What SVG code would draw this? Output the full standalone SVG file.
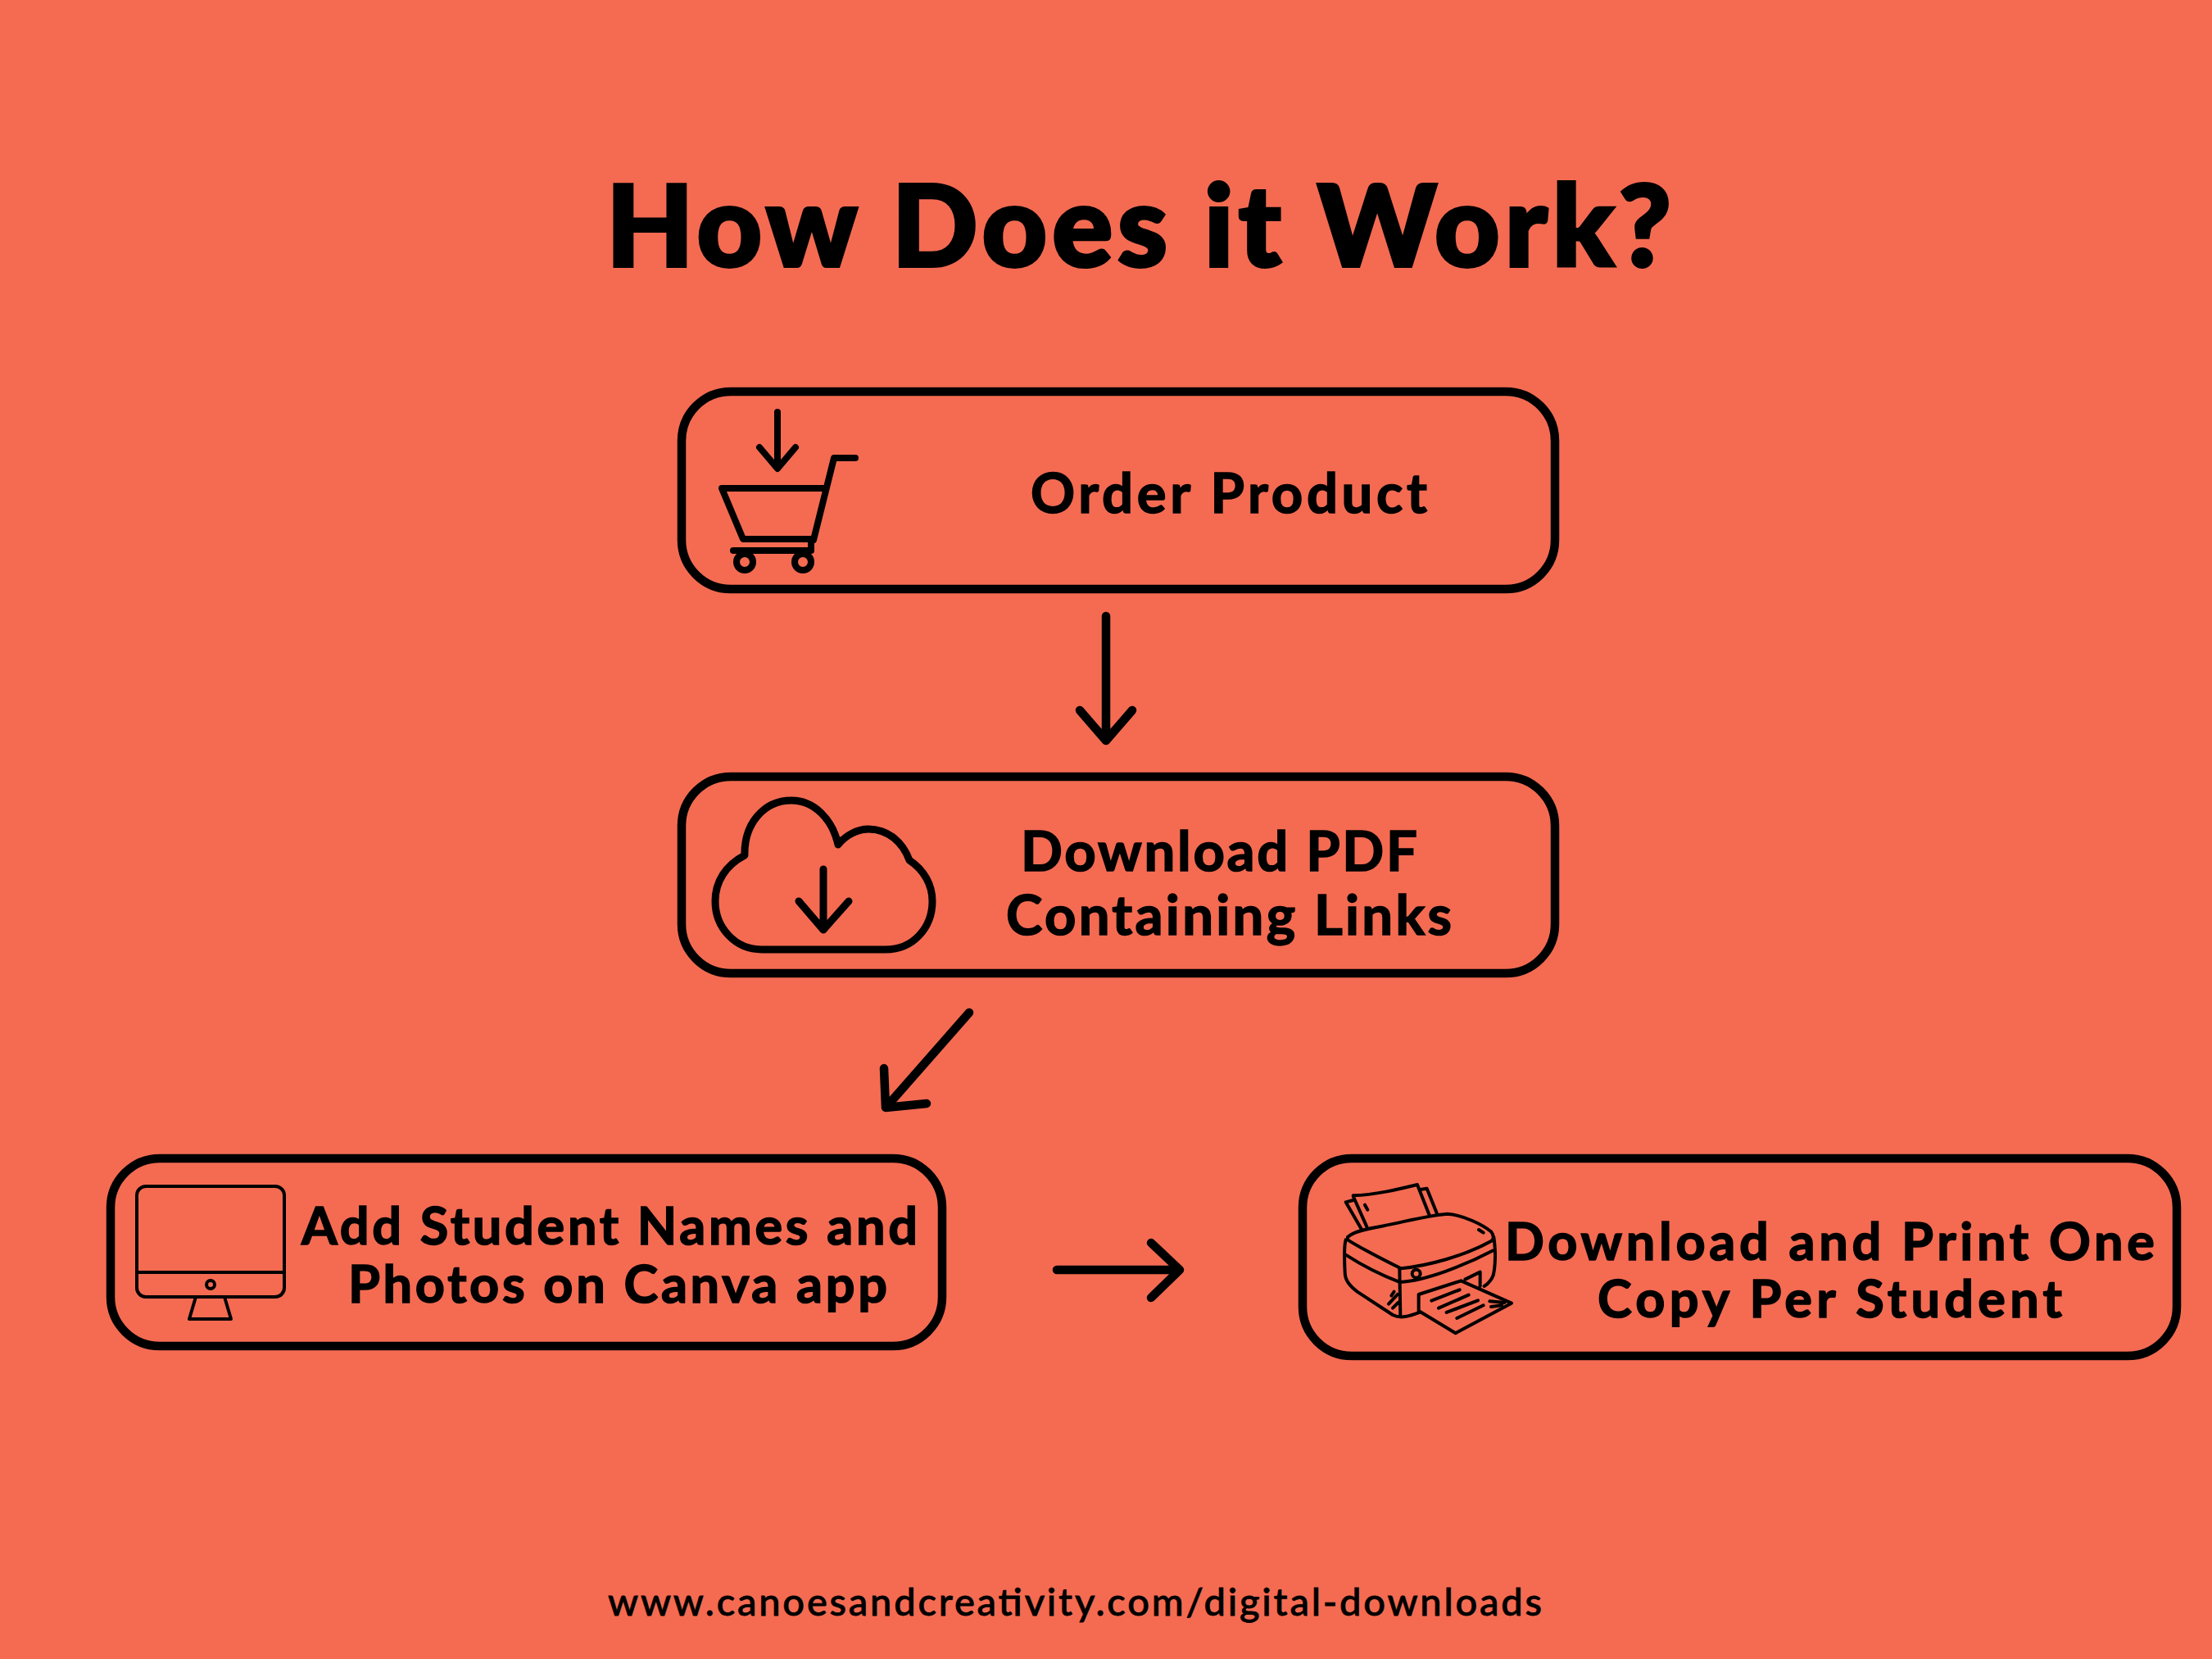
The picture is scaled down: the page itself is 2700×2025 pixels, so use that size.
<svg xmlns="http://www.w3.org/2000/svg" width="2700" height="2025" viewBox="0 0 2700 2025">
<style>
.box{fill:none;stroke:#000;stroke-width:10.5}
.ln{fill:none;stroke:#000;stroke-linecap:round;stroke-linejoin:round}
.conn{stroke-width:10.5}
text{font-family:"Lato","Liberation Sans",sans-serif;font-weight:700;fill:#000;stroke:#000;stroke-width:1.6}
.lbl{font-size:67px}
.lbl2{font-size:63px}
</style>
<rect width="2700" height="2025" fill="#F46B52"/>
<text id="title" x="740" y="325" font-size="138" style="font-weight:900;stroke-width:4" textLength="1300" lengthAdjust="spacing">How Does it Work?</text>
<g id="connectors">
<path class="ln conn" d="M1350 752V902M1318 867L1350 904L1382 867"/>
<path class="ln conn" d="M1183 1236L1082 1351M1079 1304L1081 1352L1131 1347"/>
<path class="ln conn" d="M1290 1550H1438M1405 1517L1440 1550L1405 1584"/>
</g>
<g id="node-order">
<rect class="box" x="832" y="478" width="1066" height="241" rx="60"/>
<g class="ln" stroke-width="8">
<path d="M949 503V570M927 546L949 572L971 546"/>
<path d="M1044 559H1018L993 659"/>
<path d="M1007 596H881L907 658H993"/>
<path d="M990 660V672H895"/>
<circle cx="909" cy="686" r="10"/><circle cx="980" cy="686" r="10"/>
</g>
<text class="lbl" x="1258" y="626" textLength="484" lengthAdjust="spacing">Order Product</text>
</g>
<g id="node-download">
<rect class="box" x="832" y="948" width="1066" height="240" rx="60"/>
<g class="ln" stroke-width="9">
<path d="M930 1159H1081C1115 1159 1138 1132 1138 1100C1138 1080 1128 1062 1110 1050C1102 1028 1084 1012 1060 1012C1046 1012 1032 1020 1023 1031C1016 1000 994 977 966 977C932 977 908 1006 909 1044C886 1056 873 1076 873 1100C873 1132 897 1159 930 1159Z"/>
<path d="M1005 1061V1133M975 1100L1005 1135L1036 1100"/>
</g>
<text class="lbl" x="1246" y="1063" textLength="484" lengthAdjust="spacing">Download PDF</text>
<text class="lbl" x="1228" y="1141" textLength="544" lengthAdjust="spacing">Containing Links</text>
</g>
<g id="node-canva">
<rect class="box" x="135" y="1414" width="1015" height="229" rx="60"/>
<g class="ln" stroke-width="4">
<rect x="167" y="1448" width="180" height="135" rx="11"/>
<path d="M167 1553H347"/>
<circle cx="257" cy="1568" r="5"/>
<path d="M239 1583L231 1610H282L274 1583"/>
</g>
<text class="lbl2" x="368" y="1519" textLength="752" lengthAdjust="spacing">Add Student Names and</text>
<text class="lbl2" x="425" y="1590" textLength="658" lengthAdjust="spacing">Photos on Canva app</text>
</g>
<g id="node-print">
<rect class="box" x="1590" y="1414" width="1067" height="241" rx="60"/>
<g class="ln" stroke-width="12" transform="translate(1600 1420) scale(.3333)">
<path d="M185 240L128 142L155 135M155 118C240 115 320 95 390 78L435 192M205 232L155 120M405 95L425 92L462 184"/>
<path d="M198 152L208 170M615 243L632 254"/>
<path d="M135 270C155 250 200 240 260 230C340 215 430 190 500 185C560 190 630 225 660 250C672 265 670 280 660 285C560 340 430 375 330 385C260 350 190 315 135 280Z"/>
<path d="M128 280C122 300 122 340 125 400C125 430 145 450 170 470L300 555C330 570 360 560 400 545"/>
<path d="M128 335C190 375 260 410 325 435C420 430 560 375 665 320"/>
<path d="M325 385L328 560"/>
<path d="M670 270C678 320 676 380 668 410C660 430 650 440 635 450"/>
<circle cx="386" cy="404" r="15"/>
<path d="M395 480L550 430L735 512L530 622L395 540Z"/>
<path d="M565 425L620 398V450"/>
<path d="M442 503L545 463M468 530L578 482M497 546L612 502M535 567L632 520"/>
<path d="M305 470L295 485M318 480L285 515M320 510L300 530"/>
<path d="M655 505L710 510M660 525L700 520"/>
</g>
<text class="lbl2" x="1837" y="1538" textLength="793" lengthAdjust="spacing">Download and Print One</text>
<text class="lbl2" x="1950" y="1608" textLength="567" lengthAdjust="spacing">Copy Per Student</text>
</g>
<text id="footer" x="742" y="1972" font-size="47" textLength="1140" lengthAdjust="spacing" style="font-weight:500;stroke-width:.8">www.canoesandcreativity.com/digital-downloads</text>
</svg>
